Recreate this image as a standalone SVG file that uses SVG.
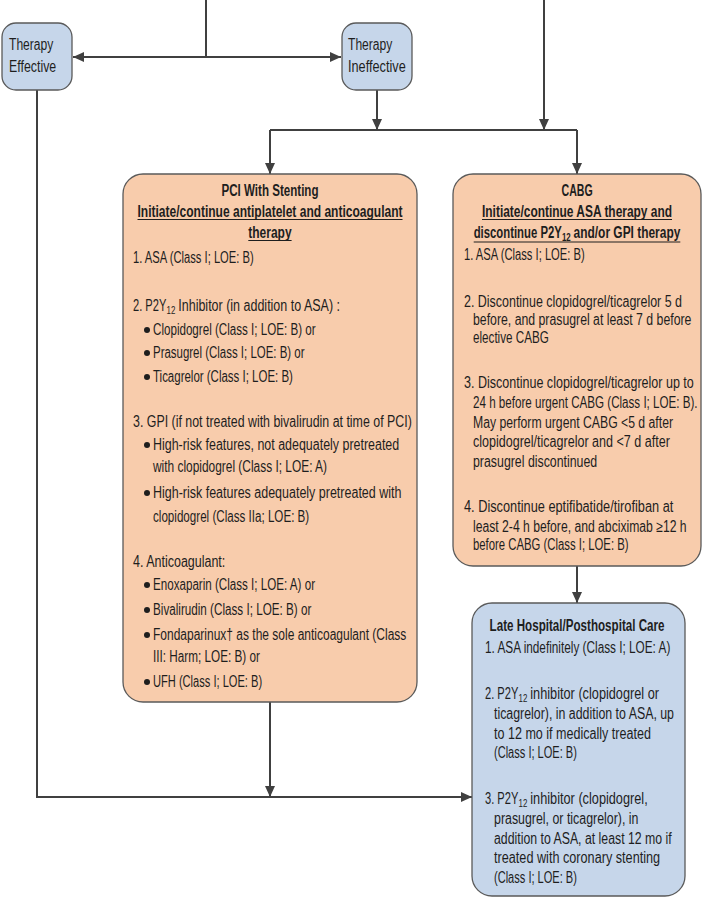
<svg xmlns="http://www.w3.org/2000/svg" width="705" height="904" viewBox="0 0 705 904">
<style>
.t{font-family:"Liberation Sans",Arial,sans-serif;font-size:16px;fill:#1e1e1e}
.b{font-weight:bold}
.s{font-size:10.5px}
.peach{fill:#F8CCAC;stroke:#5a5a5a;stroke-width:1.3}
.blue{fill:#C6D6EA;stroke:#5a5a5a;stroke-width:1.3}
.c{fill:none;stroke:#404040;stroke-width:2}
.u{stroke:#1e1e1e;stroke-width:1.2}
.dot{fill:#1e1e1e}
</style>
<defs>
<marker id="ah" markerUnits="userSpaceOnUse" markerWidth="11" markerHeight="10" refX="11" refY="5" orient="auto">
<path d="M0,0 L11,5 L0,10 z" fill="#404040"/>
</marker>
</defs>
<rect width="705" height="904" fill="#ffffff"/>

<g id="connectors">
<path class="c" d="M206,0 V57"/>
<path class="c" d="M206,57 H73" marker-end="url(#ah)"/>
<path class="c" d="M206,57 H341" marker-end="url(#ah)"/>
<path class="c" d="M544,0 V130" marker-end="url(#ah)"/>
<path class="c" d="M377,90 V130" marker-end="url(#ah)"/>
<path class="c" d="M270,130 H577"/>
<path class="c" d="M270,130 V174" marker-end="url(#ah)"/>
<path class="c" d="M577,130 V174" marker-end="url(#ah)"/>
<path class="c" d="M37,90 V797 H472" marker-end="url(#ah)"/>
<path class="c" d="M270,702 V797" marker-end="url(#ah)"/>
<path class="c" d="M577,566 V603" marker-end="url(#ah)"/>
</g>

<g id="therapy-effective">
<rect class="blue" x="2" y="23" width="70" height="67" rx="14"/>
<text class="t" x="9" y="50" textLength="44.3" lengthAdjust="spacingAndGlyphs">Therapy</text>
<text class="t" x="9" y="72" textLength="47.2" lengthAdjust="spacingAndGlyphs">Effective</text>
</g>

<g id="therapy-ineffective">
<rect class="blue" x="342" y="23" width="70" height="67" rx="14"/>
<text class="t" x="348" y="50" textLength="44.3" lengthAdjust="spacingAndGlyphs">Therapy</text>
<text class="t" x="348" y="72" textLength="57.7" lengthAdjust="spacingAndGlyphs">Ineffective</text>
</g>

<g id="pci">
<rect class="peach" x="123" y="174" width="294" height="528" rx="20"/>
<text class="t b" x="221.5" y="196" textLength="97" lengthAdjust="spacingAndGlyphs">PCI With Stenting</text>
<text class="t b" x="137.5" y="217" textLength="265" lengthAdjust="spacingAndGlyphs">Initiate/continue antiplatelet and anticoagulant</text>
<line class="u" x1="137.5" y1="219.5" x2="402.5" y2="219.5"/>
<text class="t b" x="248.3" y="238" textLength="43.3" lengthAdjust="spacingAndGlyphs">therapy</text>
<line class="u" x1="248.3" y1="240.5" x2="291.6" y2="240.5"/>
<text class="t" x="133" y="263" textLength="120.7" lengthAdjust="spacingAndGlyphs">1. ASA (Class I; LOE: B)</text>
<text class="t" x="133" y="311" textLength="33.3" lengthAdjust="spacingAndGlyphs">2. P2Y</text>
<text class="t s" x="166.5" y="314" textLength="8.8" lengthAdjust="spacingAndGlyphs">12</text>
<text class="t" x="178.3" y="311" textLength="161.7" lengthAdjust="spacingAndGlyphs">Inhibitor (in addition to ASA) :</text>
<circle class="dot" cx="147" cy="330" r="3"/>
<text class="t" x="153" y="335" textLength="162.6" lengthAdjust="spacingAndGlyphs">Clopidogrel (Class I; LOE: B) or</text>
<circle class="dot" cx="147" cy="353" r="3"/>
<text class="t" x="153" y="358" textLength="151.5" lengthAdjust="spacingAndGlyphs">Prasugrel (Class I; LOE: B) or</text>
<circle class="dot" cx="147" cy="377" r="3"/>
<text class="t" x="153" y="382" textLength="139.9" lengthAdjust="spacingAndGlyphs">Ticagrelor (Class I; LOE: B)</text>
<text class="t" x="133" y="427" textLength="278.8" lengthAdjust="spacingAndGlyphs">3. GPI (if not treated with bivalirudin at time of PCI)</text>
<circle class="dot" cx="147" cy="445" r="3"/>
<text class="t" x="153" y="450" textLength="246.2" lengthAdjust="spacingAndGlyphs">High-risk features, not adequately pretreated</text>
<text class="t" x="153" y="472" textLength="174" lengthAdjust="spacingAndGlyphs">with clopidogrel (Class I; LOE: A)</text>
<circle class="dot" cx="147" cy="493" r="3"/>
<text class="t" x="153" y="498" textLength="248.4" lengthAdjust="spacingAndGlyphs">High-risk features adequately pretreated with</text>
<text class="t" x="153" y="522" textLength="156.2" lengthAdjust="spacingAndGlyphs">clopidogrel (Class IIa; LOE: B)</text>
<text class="t" x="133" y="567" textLength="92.3" lengthAdjust="spacingAndGlyphs">4. Anticoagulant:</text>
<circle class="dot" cx="147" cy="585" r="3"/>
<text class="t" x="153" y="590" textLength="162" lengthAdjust="spacingAndGlyphs">Enoxaparin (Class I; LOE: A) or</text>
<circle class="dot" cx="147" cy="610" r="3"/>
<text class="t" x="153" y="615" textLength="158.3" lengthAdjust="spacingAndGlyphs">Bivalirudin (Class I; LOE: B) or</text>
<circle class="dot" cx="147" cy="635" r="3"/>
<text class="t" x="153" y="640" textLength="253.3" lengthAdjust="spacingAndGlyphs">Fondaparinux† as the sole anticoagulant (Class</text>
<text class="t" x="153" y="662" textLength="106.9" lengthAdjust="spacingAndGlyphs">III: Harm; LOE: B) or</text>
<circle class="dot" cx="147" cy="682" r="3"/>
<text class="t" x="153" y="687" textLength="109.1" lengthAdjust="spacingAndGlyphs">UFH (Class I; LOE: B)</text>
</g>

<g id="cabg">
<rect class="peach" x="453" y="174" width="248" height="392" rx="20"/>
<text class="t b" x="561.5" y="196" textLength="31.1" lengthAdjust="spacingAndGlyphs">CABG</text>
<text class="t b" x="482" y="217" textLength="190" lengthAdjust="spacingAndGlyphs">Initiate/continue ASA therapy and</text>
<line class="u" x1="482" y1="219.5" x2="672" y2="219.5"/>
<text class="t b" x="473.7" y="238" textLength="88.1" lengthAdjust="spacingAndGlyphs">discontinue P2Y</text>
<text class="t b s" x="561.9" y="241" textLength="8.8" lengthAdjust="spacingAndGlyphs">12</text>
<text class="t b" x="573.6" y="238" textLength="106.7" lengthAdjust="spacingAndGlyphs">and/or GPI therapy</text>
<line class="u" x1="473.7" y1="242" x2="680.3" y2="242"/>
<text class="t" x="464" y="260" textLength="120.7" lengthAdjust="spacingAndGlyphs">1. ASA (Class I; LOE: B)</text>
<text class="t" x="464" y="307" textLength="218" lengthAdjust="spacingAndGlyphs">2. Discontinue clopidogrel/ticagrelor 5 d</text>
<text class="t" x="473" y="325" textLength="218.4" lengthAdjust="spacingAndGlyphs">before, and prasugrel at least 7 d before</text>
<text class="t" x="473" y="343" textLength="75.8" lengthAdjust="spacingAndGlyphs">elective CABG</text>
<text class="t" x="464" y="388" textLength="229.8" lengthAdjust="spacingAndGlyphs">3. Discontinue clopidogrel/ticagrelor up to</text>
<text class="t" x="473" y="408" textLength="224.6" lengthAdjust="spacingAndGlyphs">24 h before urgent CABG (Class I; LOE: B).</text>
<text class="t" x="473" y="428" textLength="200" lengthAdjust="spacingAndGlyphs">May perform urgent CABG &lt;5 d after</text>
<text class="t" x="473" y="447" textLength="196.8" lengthAdjust="spacingAndGlyphs">clopidogrel/ticagrelor and &lt;7 d after</text>
<text class="t" x="473" y="467" textLength="124.2" lengthAdjust="spacingAndGlyphs">prasugrel discontinued</text>
<text class="t" x="464" y="512" textLength="209.3" lengthAdjust="spacingAndGlyphs">4. Discontinue eptifibatide/tirofiban at</text>
<text class="t" x="473" y="532" textLength="213.6" lengthAdjust="spacingAndGlyphs">least 2-4 h before, and abciximab ≥12 h</text>
<text class="t" x="473" y="550" textLength="155.5" lengthAdjust="spacingAndGlyphs">before CABG (Class I; LOE: B)</text>
</g>

<g id="late-care">
<rect class="blue" x="472" y="603" width="213" height="293" rx="20"/>
<text class="t b" x="489.6" y="631" textLength="174.9" lengthAdjust="spacingAndGlyphs">Late Hospital/Posthospital Care</text>
<text class="t" x="485" y="653" textLength="185.3" lengthAdjust="spacingAndGlyphs">1. ASA indefinitely (Class I; LOE: A)</text>
<text class="t" x="485" y="699" textLength="33.3" lengthAdjust="spacingAndGlyphs">2. P2Y</text>
<text class="t s" x="518.5" y="702" textLength="8.8" lengthAdjust="spacingAndGlyphs">12</text>
<text class="t" x="530.3" y="699" textLength="128.7" lengthAdjust="spacingAndGlyphs">inhibitor (clopidogrel or</text>
<text class="t" x="494" y="719" textLength="180" lengthAdjust="spacingAndGlyphs">ticagrelor), in addition to ASA, up</text>
<text class="t" x="494" y="739" textLength="156.9" lengthAdjust="spacingAndGlyphs">to 12 mo if medically treated</text>
<text class="t" x="494" y="758" textLength="82.9" lengthAdjust="spacingAndGlyphs">(Class I; LOE: B)</text>
<text class="t" x="485" y="804" textLength="33.3" lengthAdjust="spacingAndGlyphs">3. P2Y</text>
<text class="t s" x="518.5" y="807" textLength="8.8" lengthAdjust="spacingAndGlyphs">12</text>
<text class="t" x="530.3" y="804" textLength="117.4" lengthAdjust="spacingAndGlyphs">inhibitor (clopidogrel,</text>
<text class="t" x="494" y="824" textLength="144.4" lengthAdjust="spacingAndGlyphs">prasugrel, or ticagrelor), in</text>
<text class="t" x="494" y="844" textLength="177.7" lengthAdjust="spacingAndGlyphs">addition to ASA, at least 12 mo if</text>
<text class="t" x="494" y="863" textLength="166.1" lengthAdjust="spacingAndGlyphs">treated with coronary stenting</text>
<text class="t" x="494" y="883" textLength="82.9" lengthAdjust="spacingAndGlyphs">(Class I; LOE: B)</text>
</g>
</svg>
